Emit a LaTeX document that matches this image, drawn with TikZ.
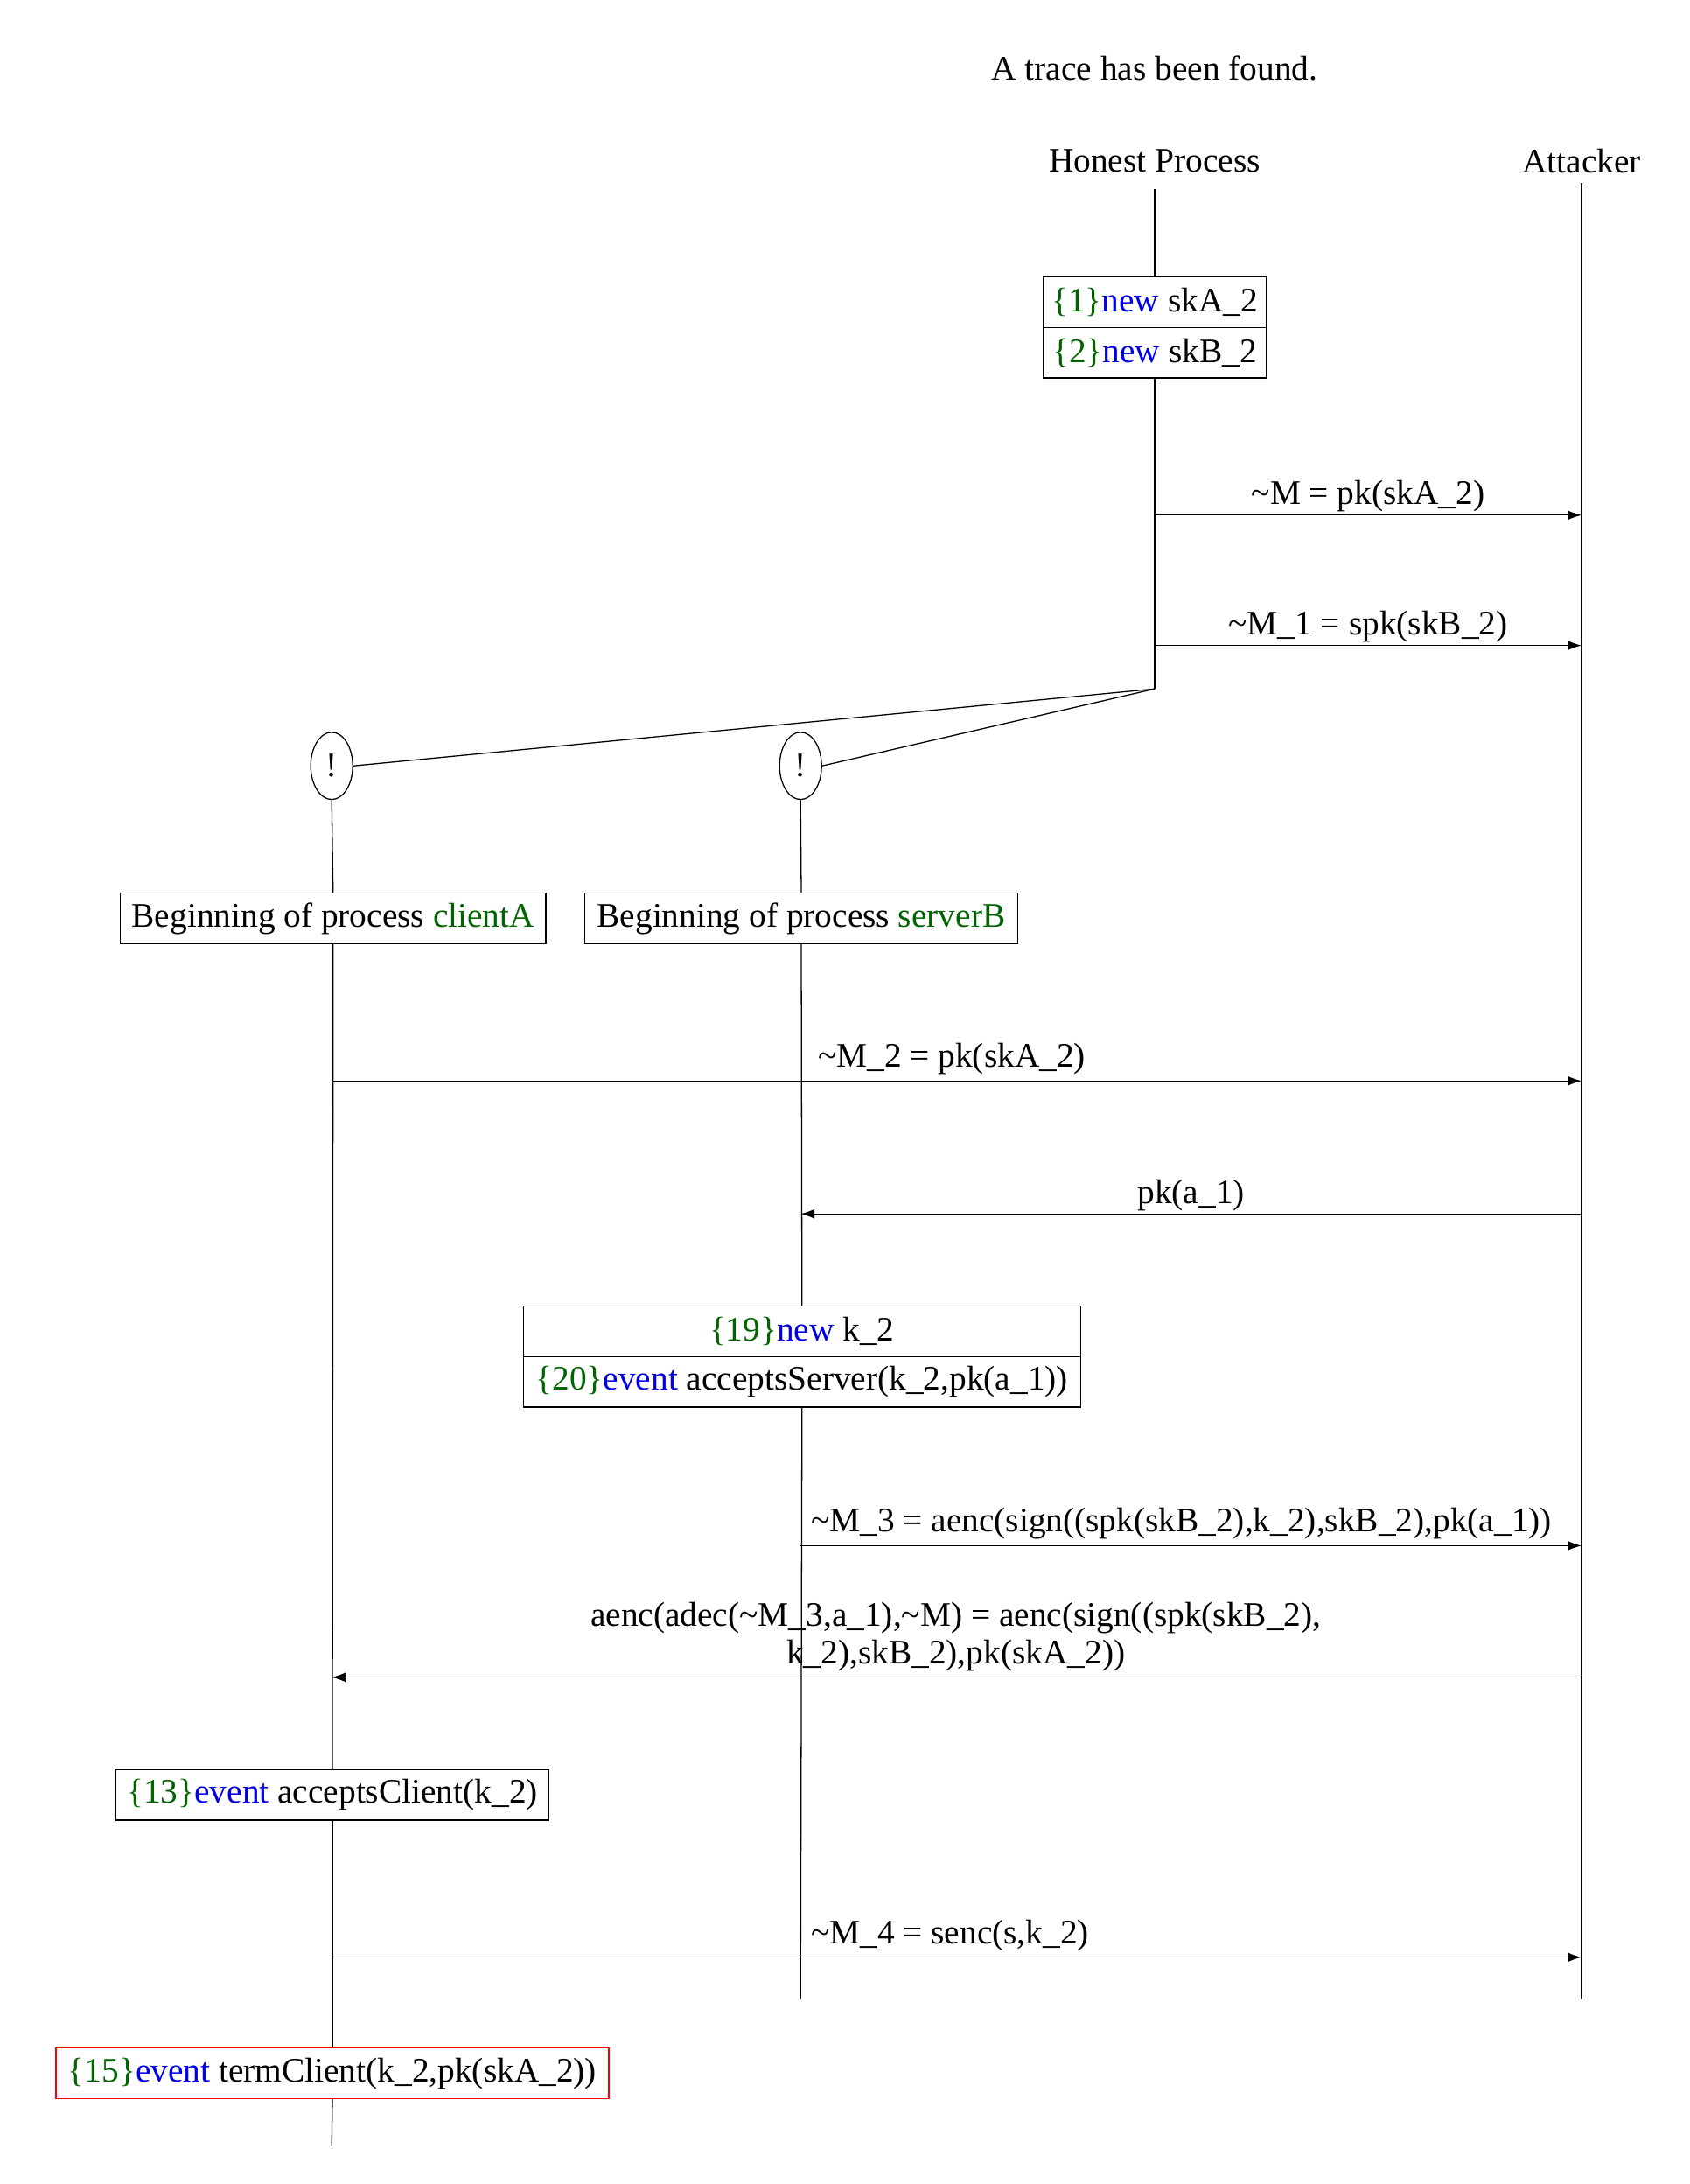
\documentclass[tikz,border=0pt]{standalone}
\usepackage{fontspec}
\setmainfont{Liberation Serif}
\usetikzlibrary{arrows.meta,shapes.geometric}
\definecolor{kgreen}{RGB}{0,100,0}
\definecolor{kblue}{RGB}{0,0,230}
\newcommand{\nm}[1]{\textcolor{kgreen}{\{#1\}}}
\newcommand{\kw}[1]{\textcolor{kblue}{#1}}
\begin{document}
\begin{tikzpicture}[x=0.5pt,y=-0.5pt,font=\fontsize{12.3}{13.5}\selectfont,
  box/.style={draw,inner sep=0pt,minimum height=18pt},
  msg/.style={-{Latex[length=5pt,width=3.5pt]}},
  lab/.style={inner sep=1pt,anchor=south}]
\useasboundingbox (0,0) rectangle (1207.5,1560);
% headers
\node (title) at (825,49) {A trace has been found.};
\node (hp) at (825,115) {Honest Process};
\node (at) at (1130,115) {Attacker};
% honest process boxes
\node[box,minimum width=79.5pt] (b1) at (825,216) {\nm{1}\kw{new} skA\_2};
\node[box,minimum width=79.5pt] (b2) at (825,252) {\nm{2}\kw{new} skB\_2};
\draw (825,135) -- (b1.north);
\coordinate (fork) at (825,492);
\draw (b2.south) -- (fork);
% attacker line
\coordinate (atend) at (1130,1428);
\draw (at.south) -- (atend);
\coordinate (h1) at (825,368); \coordinate (a1) at (1130,368);
\coordinate (h2) at (825,461); \coordinate (a2) at (1130,461);
\draw[msg] (h1) -- node[lab,midway] {\textasciitilde M = pk(skA\_2)} (a1);
\draw[msg] (h2) -- node[lab,midway] {\textasciitilde M\_1 = spk(skB\_2)} (a2);
% replication
\node[draw,ellipse,minimum width=15pt,minimum height=24pt,inner sep=0pt] (e1) at (237,547) {!};
\node[draw,ellipse,minimum width=15pt,minimum height=24pt,inner sep=0pt] (e2) at (572,547) {!};
\draw (fork) -- (e1.east);
\draw (fork) -- (e2.east);
\node[box,minimum width=152pt] (pa) at (238,656) {Beginning of process \textcolor{kgreen}{clientA}};
\node[box,minimum width=154.5pt] (pb) at (572.5,656) {Beginning of process \textcolor{kgreen}{serverB}};
\draw (e1.south) -- (pa.north);
\draw (e2.south) -- (pb.north);
% serverB boxes
\node[box,minimum width=199pt] (b19) at (573,951) {\nm{19}\kw{new} k\_2};
\node[box,minimum width=199pt] (b20) at (573,987) {\nm{20}\kw{event} acceptsServer(k\_2,pk(a\_1))};
\draw (pb.south) -- (b19.north);
\coordinate (bend) at (572,1428);
\draw (b20.south) -- (bend);
% clientA boxes
\node[box,minimum width=154.5pt] (b13) at (237.5,1282) {\nm{13}\kw{event} acceptsClient(k\_2)};
\node[box,draw=red,minimum width=197.5pt] (b15) at (237.5,1481) {\nm{15}\kw{event} termClient(k\_2,pk(skA\_2))};
\draw (pa.south) -- (b13.north);
\draw (b13.south) -- (b15.north);
\coordinate (cend) at (237,1533);
\draw (b15.south) -- (cend);
% messages
\coordinate (c3) at (237,772); \coordinate (a3) at (1130,772);
\draw[msg] (c3) -- (a3);
\node[lab,anchor=south west] (l3) at (582,770) {\textasciitilde M\_2 = pk(skA\_2)};
\coordinate (a4) at (1130,867); \coordinate (s4) at (572,867);
\draw[msg] (a4) -- node[lab,pos=0.5] {pk(a\_1)} (s4);
\coordinate (s5) at (572,1104); \coordinate (a5) at (1130,1104);
\draw[msg] (s5) -- (a5);
\node[lab,anchor=south west] (l5) at (577,1102) {\textasciitilde M\_3 = aenc(sign((spk(skB\_2),k\_2),skB\_2),pk(a\_1))};
\coordinate (a6) at (1130,1198); \coordinate (c6) at (237,1198);
\draw[msg] (a6) -- (c6);
\node[lab,align=center] (l6) at (683,1196) {aenc(adec(\textasciitilde M\_3,a\_1),\textasciitilde M) = aenc(sign((spk(skB\_2),\\k\_2),skB\_2),pk(skA\_2))};
\coordinate (c7) at (237,1398); \coordinate (a7) at (1130,1398);
\draw[msg] (c7) -- (a7);
\node[lab,anchor=south west] (l7) at (577,1396) {\textasciitilde M\_4 = senc(s,k\_2)};
\end{tikzpicture}
\end{document}
